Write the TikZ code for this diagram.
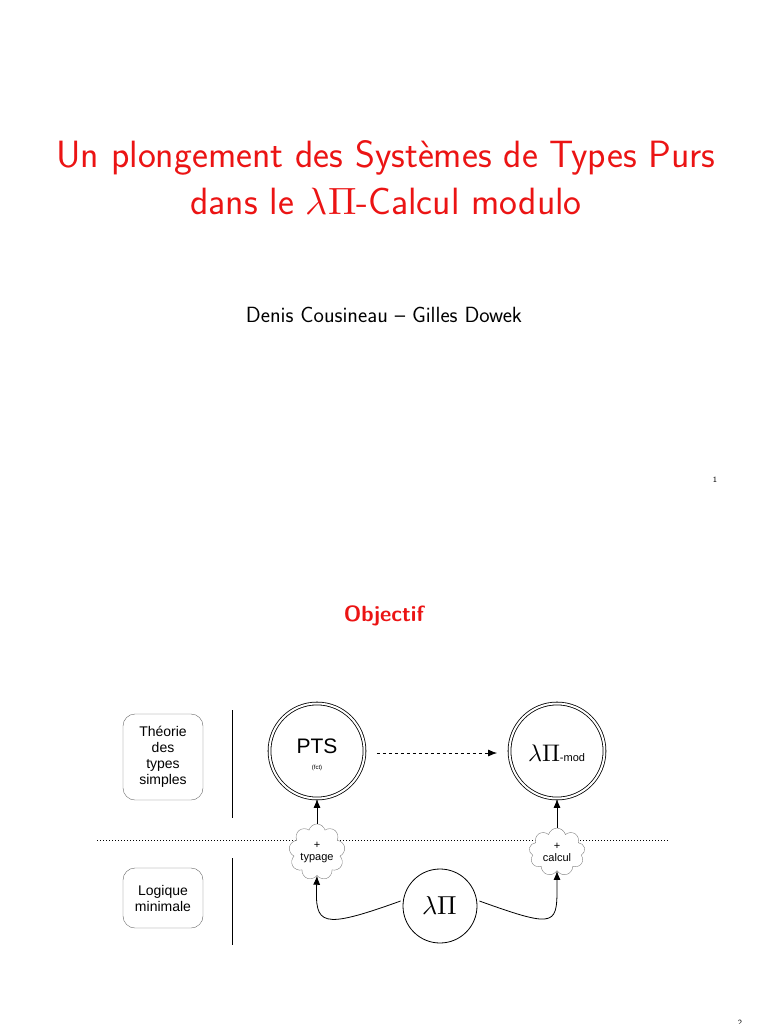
\documentclass[tikz,border=0pt]{standalone}
\usepackage{fontspec}
\usepackage{unicode-math}
\newfontfamily\hv{Liberation Sans}
\usetikzlibrary{shapes.symbols,arrows.meta}
\definecolor{tred}{RGB}{235,20,20}
\tikzset{
 lbl/.style={draw=black!60,fill=white,rounded corners=12pt,minimum width=80pt,align=center,font=\hv\fontsize{14}{16}\selectfont,inner sep=2pt},
 dbl/.style={circle,draw,double,double distance=2pt,line width=0.8pt,minimum size=95pt,fill=white},
 cld/.style={cloud,cloud puffs=9,draw=black!50,fill=white,align=center,font=\hv\fontsize{11}{12}\selectfont,inner sep=0pt,minimum width=56pt,minimum height=36pt},
 arr/.style={-{Latex[length=9pt,width=7pt]},line width=0.8pt}
}
\begin{document}
\begin{tikzpicture}[x=1pt,y=-1pt]
\useasboundingbox (0,0) rectangle (768,1024);
\node[text=tred,font=\sffamily\fontsize{38}{47}\selectfont,align=center] (t) at (386,178) {Un plongement des Systèmes de Types Purs\\dans le $\lambda\Pi$-Calcul modulo};
\node[font=\sffamily\fontsize{22}{26}\selectfont] (au) at (384,315) {Denis Cousineau -- Gilles Dowek};
\node[font=\sffamily\fontsize{8}{9}\selectfont] (p1) at (715,480) {1};
\node[font=\sffamily\fontsize{8}{9}\selectfont,anchor=north] (p2) at (740,1017) {2};
\node[text=tred,font=\sffamily\bfseries\fontsize{22}{26}\selectfont] (obj) at (384,616) {Objectif};
\node[lbl,minimum height=86pt] (th) at (163,757) {Théorie\\des\\types\\simples};
\node[lbl,minimum height=60pt] (lm) at (163,898) {Logique\\minimale};
\draw[line width=1pt] (232,710) coordinate (v1) -- (232,818) coordinate (v2);
\draw[line width=1pt] (232,858) coordinate (v3) -- (232,945) coordinate (v4);
\draw[dotted,line width=1pt] (97,840) coordinate (h1) -- (668,840) coordinate (h2);
\node[dbl] (pts) at (317,751) {};
\node[font=\hv\fontsize{21}{22}\selectfont] (ptst) at (317,746) {PTS};
\node[font=\hv\fontsize{6}{7}\selectfont] (fct) at (317,768) {(fct)};
\node[dbl] (mod) at (557,751) {};
\node (modt) at (557,753) {\fontsize{24}{26}\selectfont$\lambda\Pi$\hspace{-1pt}{\hv\fontsize{11}{12}\selectfont-mod}};
\node[cld] (c1) at (317,852) {+\\typage};
\node[cld] (c2) at (557,852) {+\\calcul};
\node[circle,draw,line width=0.8pt,minimum size=74pt,fill=white,font=\fontsize{26}{28}\selectfont] (lp) at (440,906) {$\lambda\Pi$};
\draw[arr,dashed] (pts.east)+(12,2) -- ([shift={(-12,2)}]mod.west);
\draw[arr] (c1.north) -- (pts.south);
\draw[arr] (c2.north) -- (mod.south);
\draw[arr] (lp.west) ++(-2,-5) .. controls (320,930) and (315,925) .. (c1.south);
\draw[arr] (lp.east) ++(2,-5) .. controls (560,930) and (557,925) .. (c2.south);
\end{tikzpicture}
\end{document}
